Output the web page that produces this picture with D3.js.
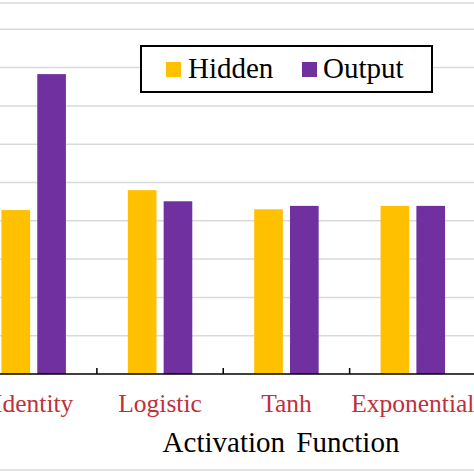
<!DOCTYPE html>
<html>
<head>
<meta charset="utf-8">
<script src="https://cdn.jsdelivr.net/npm/d3@7"></script>
<style>
  html, body { margin: 0; padding: 0; background: #fff; }
  svg { display: block; }
</style>
</head>
<body>
<div id="chart"></div>
<script>
var categories = ['Identity', 'Logistic', 'Tanh', 'Exponential'];
var series = ['Hidden', 'Output'];
var hiddenValues = [4.28, 4.80, 4.30, 4.39];
var outputValues = [7.83, 4.51, 4.39, 4.39];
var yTicks = [0, 1, 2, 3, 4, 5, 6, 7, 8, 9];

var colors = { Hidden: '#FFC000', Output: '#7030A0' };

var width = 474;
var height = 474;

var svg = d3.select('#chart')
  .append('svg')
  .attr('width', width)
  .attr('height', height);

// chart area frame lines (top and bottom edges visible in the crop)
svg.append('line')
  .attr('x1', 0).attr('x2', width)
  .attr('y1', 3).attr('y2', 3)
  .style('stroke', '#d9d9d9').style('stroke-width', 1.5);
svg.append('line')
  .attr('x1', 0).attr('x2', width)
  .attr('y1', 470).attr('y2', 470)
  .style('stroke', '#d9d9d9').style('stroke-width', 1.5);

// plot area runs past the left and right edges of the picture
var x0 = d3.scaleBand()
  .domain(categories)
  .range([-29.5, 476])
  .paddingInner(0.49)
  .paddingOuter(0.245);

var x1 = d3.scaleBand()
  .domain(series)
  .range([0, x0.bandwidth()])
  .paddingInner(0.2);

var y = d3.scaleLinear()
  .domain([0, 9])
  .range([374, 29.3]);

// gridlines
svg.append('g')
  .selectAll('line')
  .data(yTicks.slice(1))
  .enter()
  .append('line')
  .attr('x1', 0)
  .attr('x2', width)
  .attr('y1', function(d) { return y(d); })
  .attr('y2', function(d) { return y(d); })
  .style('stroke', '#d9d9d9')
  .style('stroke-width', 1.5);

var rows = categories.map(function(c, i) {
  return { category: c, values: [
    { key: 'Hidden', value: hiddenValues[i] },
    { key: 'Output', value: outputValues[i] }
  ]};
});

var groups = svg.append('g')
  .selectAll('g')
  .data(rows)
  .enter()
  .append('g')
  .attr('transform', function(d) { return 'translate(' + x0(d.category) + ',0)'; });

groups.selectAll('rect')
  .data(function(d) { return d.values; })
  .enter()
  .append('rect')
  .attr('x', function(d) { return x1(d.key); })
  .attr('width', x1.bandwidth())
  .attr('y', function(d) { return y(d.value); })
  .attr('height', function(d) { return y(0) - y(d.value); })
  .style('fill', function(d) { return colors[d.key]; });

// x axis: baseline with inward ticks on category boundaries
var axisG = svg.append('g');
axisG.append('line')
  .attr('x1', 0).attr('x2', width)
  .attr('y1', y(0)).attr('y2', y(0))
  .style('stroke', '#000')
  .style('stroke-width', 1.5);

var step = x0.step();
var boundaries = categories.slice(1).map(function(c) {
  return x0(c) - step * x0.paddingInner() / 2;
});

axisG.selectAll('.tick')
  .data(boundaries)
  .enter()
  .append('line')
  .attr('class', 'tick')
  .attr('x1', function(d) { return d; })
  .attr('x2', function(d) { return d; })
  .attr('y1', y(0))
  .attr('y2', y(0) - 6)
  .style('stroke', '#000')
  .style('stroke-width', 1.5);

axisG.selectAll('.cat')
  .data(categories)
  .enter()
  .append('text')
  .attr('class', 'cat')
  .attr('x', function(d) { return x0(d) + x0.bandwidth() / 2; })
  .attr('y', 412)
  .attr('text-anchor', 'middle')
  .style('font-family', '"Liberation Serif", "Times New Roman", serif')
  .style('font-size', '25.5px')
  .style('fill', '#C0303A')
  .text(function(d) { return d; });

svg.append('text')
  .attr('x', 281)
  .attr('y', 452)
  .attr('text-anchor', 'middle')
  .style('font-family', '"Liberation Serif", "Times New Roman", serif')
  .style('font-size', '29px')
  .style('word-spacing', '4px')
  .style('fill', '#000')
  .text('Activation Function');

// legend
var legend = svg.append('g');
legend.append('rect')
  .attr('x', 141)
  .attr('y', 46)
  .attr('width', 291)
  .attr('height', 46)
  .style('fill', '#fff')
  .style('stroke', '#000')
  .style('stroke-width', 2);

var legendItems = [
  { key: 'Hidden', sx: 166, tx: 188 },
  { key: 'Output', sx: 302, tx: 323 }
];

legend.selectAll('.sw')
  .data(legendItems)
  .enter()
  .append('rect')
  .attr('class', 'sw')
  .attr('x', function(d) { return d.sx; })
  .attr('y', 62)
  .attr('width', 15)
  .attr('height', 15)
  .style('fill', function(d) { return colors[d.key]; });

legend.selectAll('.lt')
  .data(legendItems)
  .enter()
  .append('text')
  .attr('class', 'lt')
  .attr('x', function(d) { return d.tx; })
  .attr('y', 78)
  .style('font-family', '"Liberation Serif", "Times New Roman", serif')
  .style('font-size', '29px')
  .style('fill', '#000')
  .text(function(d) { return d.key; });
</script>
</body>
</html>
